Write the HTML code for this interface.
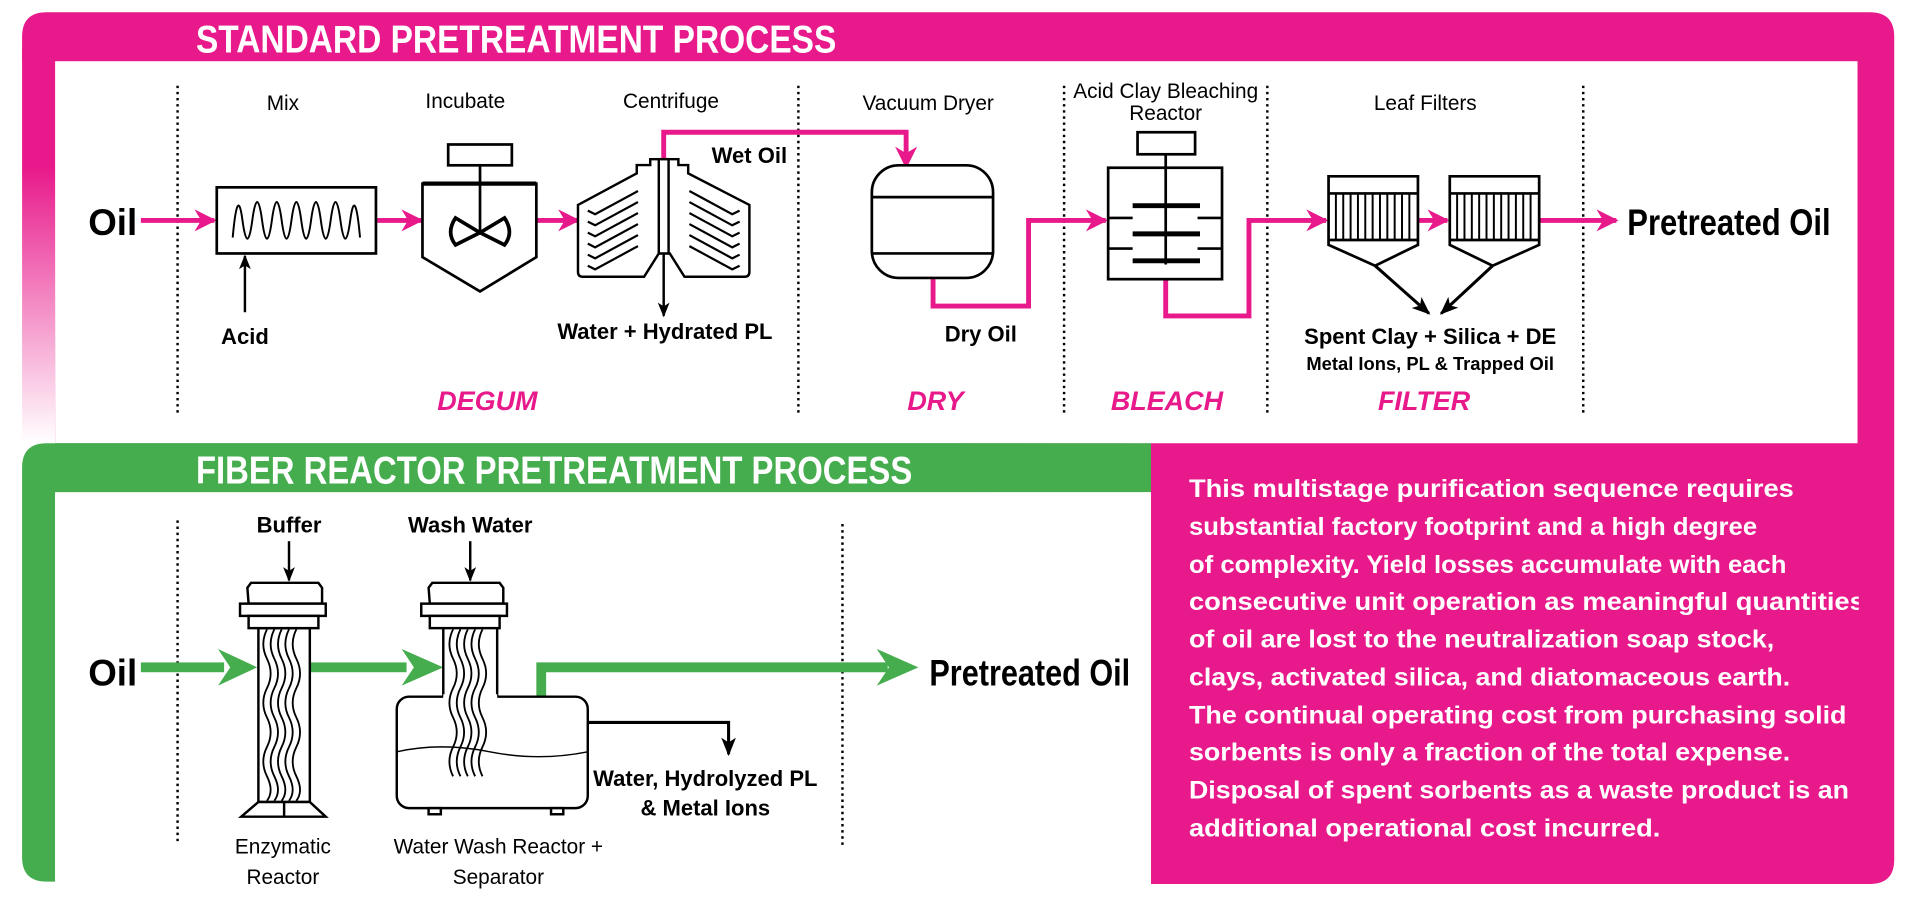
<!DOCTYPE html>
<html><head><meta charset="utf-8"><style>
html,body{margin:0;padding:0;background:#fff;}
svg{display:block;}
.c{font-family:"Liberation Sans Narrow","Liberation Sans",sans-serif;}
</style></head><body>
<svg width="1920" height="898" viewBox="0 0 1568 733.4" xmlns="http://www.w3.org/2000/svg">
<defs>
<linearGradient id="pl" x1="0" y1="0" x2="0" y2="1">
<stop offset="0" stop-color="#e8198b"/><stop offset="0.3" stop-color="#e8198b"/><stop offset="1" stop-color="#e8198b" stop-opacity="0"/>
</linearGradient>
<linearGradient id="gr" x1="0" y1="0" x2="1" y2="0">
<stop offset="0" stop-color="#45ad4e"/><stop offset="0.82" stop-color="#45ad4e"/><stop offset="1" stop-color="#45ad4e" stop-opacity="0"/>
</linearGradient>
<clipPath id="tb"><rect x="940" y="362" width="578" height="362"/></clipPath>
<marker id="ap" viewBox="0 0 10 10" refX="9" refY="5" markerWidth="4.5" markerHeight="4.5" orient="auto" markerUnits="strokeWidth"><path d="M0,0 L10,5 L0,10 L3,5z" fill="#e8198b"/></marker>
<marker id="ab" viewBox="0 0 10 10" refX="9" refY="5" markerWidth="6" markerHeight="6" orient="auto" markerUnits="strokeWidth"><path d="M0,1 L10,5 L0,9 L2.5,5z" fill="#000"/></marker>
</defs>

<!-- pink frame -->
<path d="M18,30 Q18,10 38,10 L1527,10 Q1547,10 1547,30 L1547,702 Q1547,722 1527,722 L940,722 L940,362 L45,362 L45,50 L18,50 Z" fill="#e8198b"/>
<rect x="18" y="40" width="27" height="322" fill="url(#pl)"/>
<rect x="45" y="50" width="1472" height="312" fill="#fff"/>
<text x="160" y="43" class="c" font-weight="bold" font-size="32" fill="#fff" textLength="523" lengthAdjust="spacingAndGlyphs">STANDARD PRETREATMENT PROCESS</text>

<!-- green frame -->
<path d="M18,382 Q18,362 38,362 L940,362 L940,402 L45,402 L45,720 L38,720 Q18,720 18,700 Z" fill="#45ad4e"/>
<rect x="45" y="362" width="895" height="40" fill="url(#gr)"/>
<rect x="45" y="402" width="895" height="320" fill="#fff"/>
<text x="160" y="395" class="c" font-weight="bold" font-size="32" fill="#fff" textLength="585" lengthAdjust="spacingAndGlyphs">FIBER REACTOR PRETREATMENT PROCESS</text>

<!-- dotted lines -->
<g stroke="#000" stroke-width="2" stroke-dasharray="2,3">
<line x1="145" y1="70" x2="145" y2="338"/><line x1="652" y1="70" x2="652" y2="338"/>
<line x1="869" y1="70" x2="869" y2="338"/><line x1="1035" y1="70" x2="1035" y2="338"/>
<line x1="1293" y1="70" x2="1293" y2="338"/>
<line x1="145" y1="425" x2="145" y2="690"/><line x1="688" y1="428" x2="688" y2="690"/>
</g>

<!-- top labels -->
<g class="c" font-size="17" text-anchor="middle" fill="#000">
<text x="231" y="90">Mix</text><text x="380" y="88">Incubate</text><text x="548" y="88">Centrifuge</text>
<text x="758" y="90">Vacuum Dryer</text><text x="952" y="80">Acid Clay Bleaching</text><text x="952" y="98">Reactor</text>
<text x="1164" y="90">Leaf Filters</text>
</g>
<g class="c" font-weight="bold" text-anchor="middle" fill="#000">
<text x="92" y="192" font-size="30">Oil</text>
<text x="200" y="281" font-size="18">Acid</text>
<text x="543" y="277" font-size="18">Water + Hydrated PL</text>
<text x="612" y="133" font-size="18">Wet Oil</text>
<text x="801" y="279" font-size="18">Dry Oil</text>
<text x="1168" y="281" font-size="18">Spent Clay + Silica + DE</text>
<text x="1168" y="302" font-size="15">Metal Ions, PL &amp; Trapped Oil</text>
<text x="1412" y="192" font-size="30" textLength="166" lengthAdjust="spacingAndGlyphs">Pretreated Oil</text>
</g>
<g class="c" font-weight="bold" font-style="italic" font-size="22" fill="#e8198b" text-anchor="middle">
<text x="398" y="335">DEGUM</text><text x="764" y="335">DRY</text><text x="953" y="335">BLEACH</text><text x="1163" y="335">FILTER</text>
</g>

<!-- pink flows -->
<g stroke="#e8198b" stroke-width="4" fill="none">
<line x1="115" y1="180" x2="175" y2="180" marker-end="url(#ap)"/>
<line x1="308" y1="180" x2="344" y2="180" marker-end="url(#ap)"/>
<line x1="438" y1="180" x2="472" y2="180" marker-end="url(#ap)"/>
<polyline points="542,131 542,108 740,108 740,136" marker-end="url(#ap)"/>
<polyline points="762,228 762,250 840,250 840,180 903,180" marker-end="url(#ap)"/>
<polyline points="952,228 952,258 1020,258 1020,180 1083,180" marker-end="url(#ap)"/>
<line x1="1158" y1="180" x2="1182" y2="180" marker-end="url(#ap)"/>
<line x1="1257" y1="180" x2="1320" y2="180" marker-end="url(#ap)"/>
</g>

<!-- equipment top -->
<g stroke="#000" stroke-width="2.2" fill="#fff">
<rect x="177" y="153" width="130" height="54"/>
<path d="M190,194 Q194,150 198,180 Q202,210 206,180 Q210,150 214,180 Q218,210 222,180 Q226,150 230,180 Q234,210 238,180 Q242,150 246,180 Q250,210 254,180 Q258,150 262,180 Q266,210 270,180 Q274,150 278,180 Q282,210 286,180 Q290,150 294,194" fill="none" stroke-width="1.6"/>
<rect x="366" y="118" width="52" height="17"/>
<path d="M345,150 L438,150 L438,210 L392,238 L345,210 Z"/>
<line x1="345" y1="150" x2="438" y2="150" stroke-width="3.5"/>
<line x1="392" y1="135" x2="392" y2="190"/>
<path d="M392,190 L372,178 Q364,190 372,200 Z M392,190 L412,178 Q420,190 412,200 Z" stroke-width="3"/>
<!-- centrifuge -->
<path d="M531,134.8 L531,130 L554,130 L554,134.8 L562,134.8 L562,141.6 L612,167.4 L612,222 Q612,226 608,226 L559,226 L547,207 L538,207 L526,226 L476,226 Q472,226 472,222 L472,167.4 L520,141.6 L520,134.8 Z" stroke-width="2"/>
<rect x="538" y="130" width="8" height="77" stroke-width="2"/>
</g>
<g stroke="#000" stroke-width="1.8" fill="none">
<path d="M480,176 L486,179 L521,160 M480,185 L486,188 L521,169 M480,194 L486,197 L521,178 M480,203 L486,206 L521,187 M480,212 L486,215 L521,196 M480,221 L486,224 L521,205" transform="translate(0,-4)"/>
<path d="M604,176 L598,179 L563,160 M604,185 L598,188 L563,169 M604,194 L598,197 L563,178 M604,203 L598,206 L563,187 M604,212 L598,215 L563,196 M604,221 L598,224 L563,205" transform="translate(0,-4)"/>
</g>
<line x1="542" y1="207" x2="542" y2="258" stroke="#000" stroke-width="2" marker-end="url(#ab)"/>
<line x1="200" y1="255" x2="200" y2="209" stroke="#000" stroke-width="2" marker-end="url(#ab)"/>
<g stroke="#000" stroke-width="2.2" fill="#fff">
<rect x="712" y="135" width="99" height="92" rx="22"/>
<line x1="712" y1="161" x2="811" y2="161"/><line x1="712" y1="207" x2="811" y2="207"/>
<rect x="929" y="108" width="47" height="18"/>
<rect x="905" y="137" width="93" height="91"/>
<line x1="952" y1="126" x2="952" y2="216"/>
<line x1="925" y1="168" x2="980" y2="168" stroke-width="4"/>
<line x1="925" y1="191" x2="980" y2="191" stroke-width="4"/>
<line x1="925" y1="213" x2="980" y2="213" stroke-width="4"/>
<line x1="905" y1="178" x2="925" y2="178"/><line x1="978" y1="178" x2="998" y2="178"/>
<line x1="905" y1="203" x2="925" y2="203"/><line x1="978" y1="203" x2="998" y2="203"/>
<path d="M1085,144 L1158,144 L1158,200 L1123,217 L1085,200 Z"/>
<path d="M1184,144 L1257,144 L1257,200 L1219,217 L1184,200 Z"/>
<line x1="1085" y1="158" x2="1158" y2="158"/><line x1="1085" y1="196" x2="1158" y2="196"/>
<line x1="1184" y1="158" x2="1257" y2="158"/><line x1="1184" y1="196" x2="1257" y2="196"/>
</g>
<g stroke="#000" stroke-width="1.6">
<path d="M1091,158V196M1097,158V196M1103,158V196M1109,158V196M1115,158V196M1121,158V196M1127,158V196M1133,158V196M1139,158V196M1145,158V196M1151,158V196"/>
<path d="M1190,158V196M1196,158V196M1202,158V196M1208,158V196M1214,158V196M1220,158V196M1226,158V196M1232,158V196M1238,158V196M1244,158V196M1250,158V196"/>
</g>
<line x1="1123" y1="217" x2="1167" y2="256" stroke="#000" stroke-width="2.5" marker-end="url(#ab)"/>
<line x1="1219" y1="217" x2="1177" y2="256" stroke="#000" stroke-width="2.5" marker-end="url(#ab)"/>

<!-- bottom diagram -->
<g class="c" font-weight="bold" text-anchor="middle" fill="#000">
<text x="92" y="560" font-size="30">Oil</text>
<text x="236" y="435" font-size="18">Buffer</text>
<text x="384" y="435" font-size="18">Wash Water</text>
<text x="841" y="560" font-size="30" textLength="164" lengthAdjust="spacingAndGlyphs">Pretreated Oil</text>
<text x="576" y="642" font-size="18">Water, Hydrolyzed PL</text>
<text x="576" y="666" font-size="18">&amp; Metal Ions</text>
</g>
<g class="c" font-size="17" text-anchor="middle" fill="#000">
<text x="231" y="697">Enzymatic</text><text x="231" y="722">Reactor</text>
<text x="407" y="697">Water Wash Reactor +</text><text x="407" y="722">Separator</text>
</g>
<g fill="#45ad4e">
<rect x="115" y="541" width="68" height="8"/><path d="M178,530 L210,545 L178,560 L188,545 Z"/>
<rect x="252" y="541" width="80" height="8"/><path d="M328,530 L362,545 L328,560 L338,545 Z"/>
<path d="M438,569 L438,541 L725,541 L725,549 L446,549 L446,569 Z"/><path d="M716,530 L750,545 L716,560 L726,545 Z"/>
</g>
<g stroke="#000" stroke-width="2" fill="#fff">
<rect x="211" y="513" width="42" height="142"/>
<path d="M202,480 L205,476 L260,476 L263,480 L263,493 L203,493 Z"/>
<rect x="196" y="493" width="70" height="10"/>
<rect x="203" y="503" width="57" height="10"/>
<path d="M211,655 L253,655 L266,667 L197,667 Z"/>
<line x1="232" y1="655" x2="232" y2="667"/>
<rect x="324" y="569" width="156" height="91" rx="10"/>
<rect x="362" y="513" width="44" height="60" stroke="none"/>
<line x1="362" y1="513" x2="362" y2="569"/><line x1="406" y1="513" x2="406" y2="569"/>
<rect x="362" y="567" width="44" height="4" stroke="none"/>
<path d="M350,480 L353,476 L408,476 L411,480 L411,493 L351,493 Z"/>
<rect x="344" y="493" width="70" height="10"/>
<rect x="351" y="503" width="57" height="10"/>
<rect x="350" y="660" width="10" height="5"/><rect x="450" y="660" width="10" height="5"/>
</g>
<path d="M324,614 Q360,606 400,614 T480,614" fill="none" stroke="#000" stroke-width="1.2"/>
<g fill="none" stroke="#000" stroke-width="1.5">
<path d="M218,514 q-6,12 0,24 t0,24 t0,24 t0,24 t0,24 t0,20"/>
<path d="M224,514 q-6,12 0,24 t0,24 t0,24 t0,24 t0,24 t0,20"/>
<path d="M230,514 q-6,12 0,24 t0,24 t0,24 t0,24 t0,24 t0,20"/>
<path d="M236,514 q-6,12 0,24 t0,24 t0,24 t0,24 t0,24 t0,20"/>
<path d="M242,514 q-6,12 0,24 t0,24 t0,24 t0,24 t0,24 t0,20"/>
<path d="M370,514 q-6,12 0,24 t0,24 t0,24 t0,24 t0,24"/>
<path d="M376,514 q-6,12 0,24 t0,24 t0,24 t0,24 t0,24"/>
<path d="M382,514 q-6,12 0,24 t0,24 t0,24 t0,24 t0,24"/>
<path d="M388,514 q-6,12 0,24 t0,24 t0,24 t0,24 t0,24"/>
<path d="M394,514 q-6,12 0,24 t0,24 t0,24 t0,24 t0,24"/>
</g>
<g stroke="#000" stroke-width="2">
<line x1="236" y1="442" x2="236" y2="474" marker-end="url(#ab)"/>
<line x1="384" y1="442" x2="384" y2="474" marker-end="url(#ab)"/>
<polyline points="480,590 595,590 595,616" fill="none" stroke-width="2.5" marker-end="url(#ab)"/>
</g>

<!-- text box -->
<g clip-path="url(#tb)" font-family="'Liberation Sans',sans-serif" font-weight="bold" font-size="20.5" fill="#fff">
<text x="971" y="406" textLength="494" lengthAdjust="spacingAndGlyphs">This  multistage purification sequence requires</text>
<text x="971" y="437" textLength="464" lengthAdjust="spacingAndGlyphs">substantial factory footprint and a high degree</text>
<text x="971" y="468" textLength="488" lengthAdjust="spacingAndGlyphs">of complexity. Yield losses accumulate with each</text>
<text x="971" y="498" textLength="552" lengthAdjust="spacingAndGlyphs">consecutive unit operation as meaningful quantities</text>
<text x="971" y="529" textLength="478" lengthAdjust="spacingAndGlyphs">of oil are lost to the neutralization soap stock,</text>
<text x="971" y="560" textLength="491" lengthAdjust="spacingAndGlyphs">clays, activated silica, and diatomaceous earth.</text>
<text x="971" y="591" textLength="537" lengthAdjust="spacingAndGlyphs">The continual operating cost from purchasing solid</text>
<text x="971" y="621" textLength="491" lengthAdjust="spacingAndGlyphs">sorbents is only a fraction of the total expense.</text>
<text x="971" y="652" textLength="539" lengthAdjust="spacingAndGlyphs">Disposal of spent sorbents as a waste product is an</text>
<text x="971" y="683" textLength="385" lengthAdjust="spacingAndGlyphs">additional operational cost incurred.</text>
</g>
</svg>
</body></html>
